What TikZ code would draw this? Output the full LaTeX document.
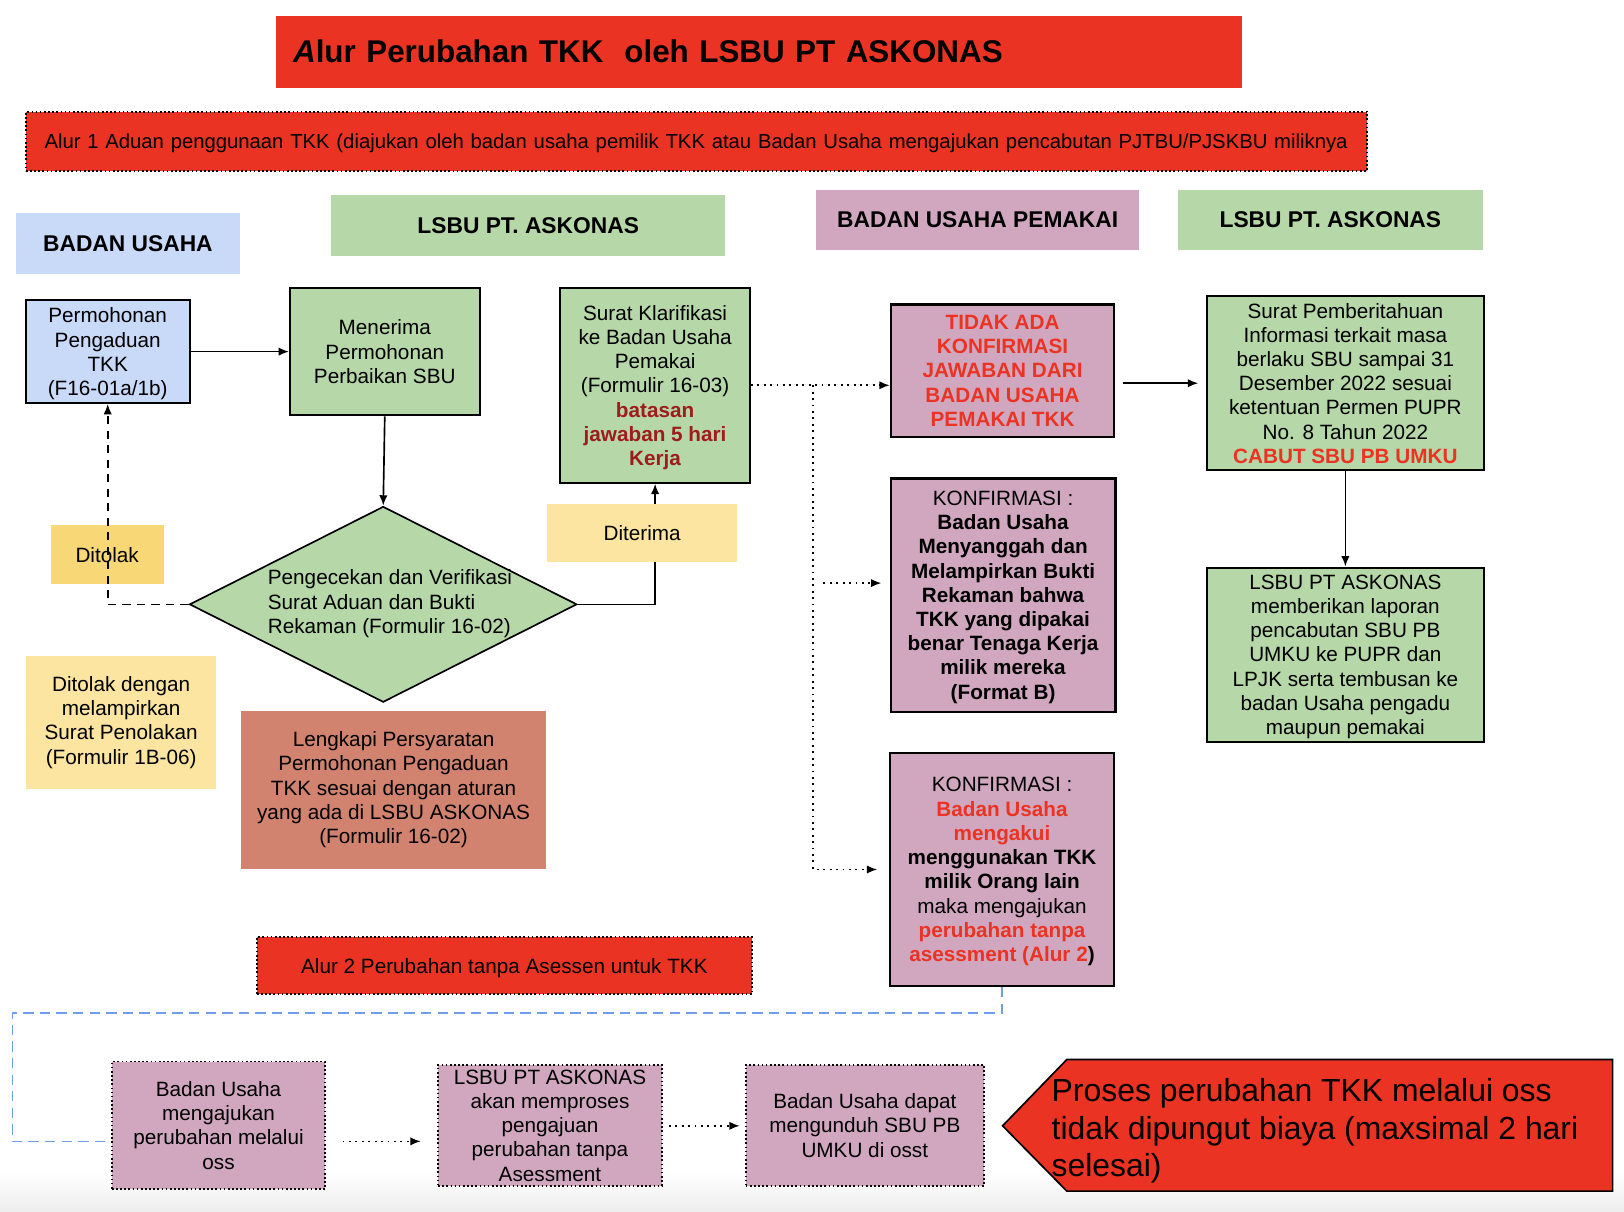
\documentclass[tikz,border=0pt]{standalone}
\usepackage{fontspec}
\setmainfont{Liberation Sans}
\usetikzlibrary{arrows.meta,shapes.geometric}
\definecolor{cred}{RGB}{234,51,35}
\definecolor{cgreen}{HTML}{B6D7A8}
\definecolor{cblue}{HTML}{C9DAF8}
\definecolor{cpink}{HTML}{D0A7BF}
\definecolor{cyel}{HTML}{F8D876}
\definecolor{cyel2}{HTML}{FBE5A1}
\definecolor{csalmon}{HTML}{D2836F}
\definecolor{cdred}{HTML}{9E1C1C}
\definecolor{cbline}{HTML}{6D9EEB}
\newcommand{\redb}[1]{\textcolor{cred}{\bfseries #1}}
\newcommand{\dredb}[1]{\textcolor{cdred}{\bfseries #1}}
\newcommand{\bx}[6]{\node[#5, minimum width={(#3-#1)*0.5pt}, minimum height={(#4-#2)*0.5pt}] (#6) at ({(#1+#3)/2},{(#2+#4)/2})}
\begin{document}
\begin{tikzpicture}[x=0.5pt,y=-0.5pt,
  base/.style={inner sep=0pt, align=center, font=\fontsize{10}{11.7}\selectfont},
  bordered/.style={base, draw=black, line width=1pt, text depth=-1.5pt},
  hdr/.style={inner sep=0pt, font=\bfseries\fontsize{11}{13}\selectfont},
  alurbar/.style={fill=cred, draw=black, line width=0.8pt, dash pattern=on 0.8pt off 1.2pt, text depth=-1.5pt},
  dotbox/.style={base, fill=cpink, draw=black, line width=0.8pt, dash pattern=on 0.8pt off 1.2pt, text depth=-1.5pt},
  arr/.style={-{Latex[length=5pt,width=4pt]}, line width=0.8pt},
  dotarr/.style={arr, dash pattern=on 0.9pt off 2.2pt},
  dashline/.style={arr, dash pattern=on 4pt off 3pt},
  bluedash/.style={draw=cbline, line width=0.7pt, dash pattern=on 5pt off 3pt}]
\useasboundingbox (0,0) rectangle (1568,1170);
\fill[white] (0,0) rectangle (1568,1170);
\shade[top color=white, bottom color=black!7] (0,1132) rectangle (1568,1170);

% title and bars
\bx{266}{15}{1199}{85}{fill=cred, inner xsep=8.5pt, inner ysep=0pt, text width=449.5pt, align=left, font=\bfseries\fontsize{15.15}{18}\selectfont}{title}{{\itshape A}lur Perubahan TKK\ \ oleh LSBU PT ASKONAS};
\bx{25}{108}{1320}{165}{alurbar, inner xsep=9pt, inner ysep=0pt, text width=629.5pt, align=left, font=\fontsize{9.79}{12}\selectfont}{alur1}{\mbox{Alur 1 Aduan penggunaan TKK (diajukan oleh badan usaha pemilik TKK atau Badan Usaha mengajukan pencabutan PJTBU/PJSKBU miliknya}};

% headers
\bx{15}{206}{232}{265}{hdr, fill=cblue}{h1}{BADAN USAHA};
\bx{320}{188}{700}{247}{hdr, fill=cgreen}{h2}{LSBU PT. ASKONAS};
\bx{788}{183}{1100}{241}{hdr, fill=cpink}{h3}{BADAN USAHA PEMAKAI};
\bx{1137}{183}{1432}{241}{hdr, fill=cgreen}{h4}{LSBU PT. ASKONAS};

% left flow
\bx{25}{290}{183}{389}{bordered, fill=cblue}{perm}{Permohonan\\Pengaduan\\TKK\\(F16-01a/1b)};
\bx{280}{278}{463}{401}{bordered, fill=cgreen}{men}{Menerima\\Permohonan\\Perbaikan SBU};
\bx{541}{278}{724}{466}{bordered, fill=cgreen}{sk}{Surat Klarifikasi\\ke Badan Usaha\\Pemakai\\(Formulir 16-03)\\\dredb{batasan}\\\dredb{jawaban 5 hari}\\\dredb{Kerja}};
\node[diamond, inner sep=0pt, draw=black, line width=0.8pt, fill=cgreen, minimum width=187pt, minimum height=94.5pt] (dia) at (370,583.5) {};
\node[base, align=left] (diatext) at (376.5,583) {Pengecekan dan Verifikasi\\Surat Aduan dan Bukti\\Rekaman (Formulir 16-02)};
\bx{49}{507}{158}{564}{base, fill=cyel}{ditolak}{Ditolak};
\bx{25}{633}{209}{762}{base, fill=cyel2}{dtd}{Ditolak dengan\\melampirkan\\Surat Penolakan\\(Formulir 1B-06)};
\bx{233}{686}{527}{839}{base, fill=csalmon}{lengkap}{Lengkapi Persyaratan\\Permohonan Pengaduan\\TKK sesuai dengan aturan\\yang ada di LSBU ASKONAS\\(Formulir 16-02)};

\draw[arr] (perm.east) -- (men.west);
\draw[arr] (men.south) -- (dia.north);
\draw[arr] (dia.east) -| (sk.south);
\bx{528}{487}{712}{543}{base, fill=cyel2}{diterima}{Diterima};
\draw[dashline] (dia.west) -| (perm.south);

% right side
\bx{860}{294}{1076}{422}{bordered, fill=cpink}{tidak}{\redb{TIDAK ADA}\\\redb{KONFIRMASI}\\\redb{JAWABAN DARI}\\\redb{BADAN USAHA}\\\redb{PEMAKAI TKK}};
\bx{860}{462}{1077}{687}{bordered, fill=cpink}{k2}{KONFIRMASI :\\\textbf{Badan Usaha}\\\textbf{Menyanggah dan}\\\textbf{Melampirkan Bukti}\\\textbf{Rekaman bahwa}\\\textbf{TKK yang dipakai}\\\textbf{benar Tenaga Kerja}\\\textbf{milik mereka}\\\textbf{(Format B)}};
\bx{859}{727}{1076}{952}{bordered, fill=cpink}{k3}{KONFIRMASI :\\\redb{Badan Usaha}\\\redb{mengakui}\\\textbf{menggunakan TKK}\\\textbf{milik Orang lain}\\maka mengajukan\\\redb{perubahan tanpa}\\\redb{asessment (Alur 2}\textbf{)}};
\bx{1165}{286}{1433}{454}{bordered, fill=cgreen}{sp}{Surat Pemberitahuan\\Informasi terkait masa\\berlaku SBU sampai 31\\Desember 2022 sesuai\\ketentuan Permen PUPR\\No. 8 Tahun 2022\\\redb{CABUT SBU PB UMKU}};
\bx{1165}{548}{1433}{716}{bordered, fill=cgreen}{lap}{LSBU PT ASKONAS\\memberikan laporan\\pencabutan SBU PB\\UMKU ke PUPR dan\\LPJK serta tembusan ke\\badan Usaha pengadu\\maupun pemakai};

\coordinate (j1) at (785,372);
\coordinate (j2) at (795,563);
\coordinate (t1) at ([xshift=3.5pt]tidak.east);
\coordinate (c1) at (12,978);
\draw[dotarr] (sk.east) -- (sk.east -| tidak.west);
\draw[dotarr] (j1) |- ([xshift=-5.5pt]k3.west);
\draw[dotarr, shorten >=4pt] (j2) -- (j2 -| k2.west);
\draw[arr, shorten >=3.5pt] (t1 |- sp.west) -- (sp.west);
\draw[arr] (sp.south) -- (lap.north);

% alur 2
\bx{248}{905}{726}{960}{alurbar, base}{alur2}{Alur 2 Perubahan tanpa Asessen untuk TKK};
\bx{108}{1025}{314}{1148}{dotbox}{ba}{Badan Usaha\\mengajukan\\perubahan melalui\\oss};
\bx{423}{1028}{639}{1145}{dotbox}{bb}{LSBU PT ASKONAS\\akan memproses\\pengajuan\\perubahan tanpa\\Asessment};
\bx{720}{1028}{950}{1145}{dotbox}{bc}{Badan Usaha dapat\\mengunduh SBU PB\\UMKU di osst};
\draw[bluedash] (k3.south) |- (c1) |- (ba.west |- 0,1102);
\draw[dotarr, shorten <=8pt, shorten >=8pt] (ba.east |- 0,1102) -- (bb.west |- 0,1102);
\draw[dotarr, shorten <=3pt, shorten >=2.5pt] (bb.east |- 0,1087) -- (bc.west |- 0,1087);

% note pentagon
\draw[fill=cred, draw=black, line width=0.8pt] (968,1087) -- (1030,1023) -- (1557,1023) -- (1557,1150) -- (1030,1150) -- cycle;
\node[anchor=west, inner sep=0pt, align=left, font=\fontsize{15.4}{18}\selectfont] (note) at (1015,1092) {Proses perubahan TKK melalui oss\\tidak dipungut biaya (maxsimal 2 hari\\selesai)};
\end{tikzpicture}
\end{document}
